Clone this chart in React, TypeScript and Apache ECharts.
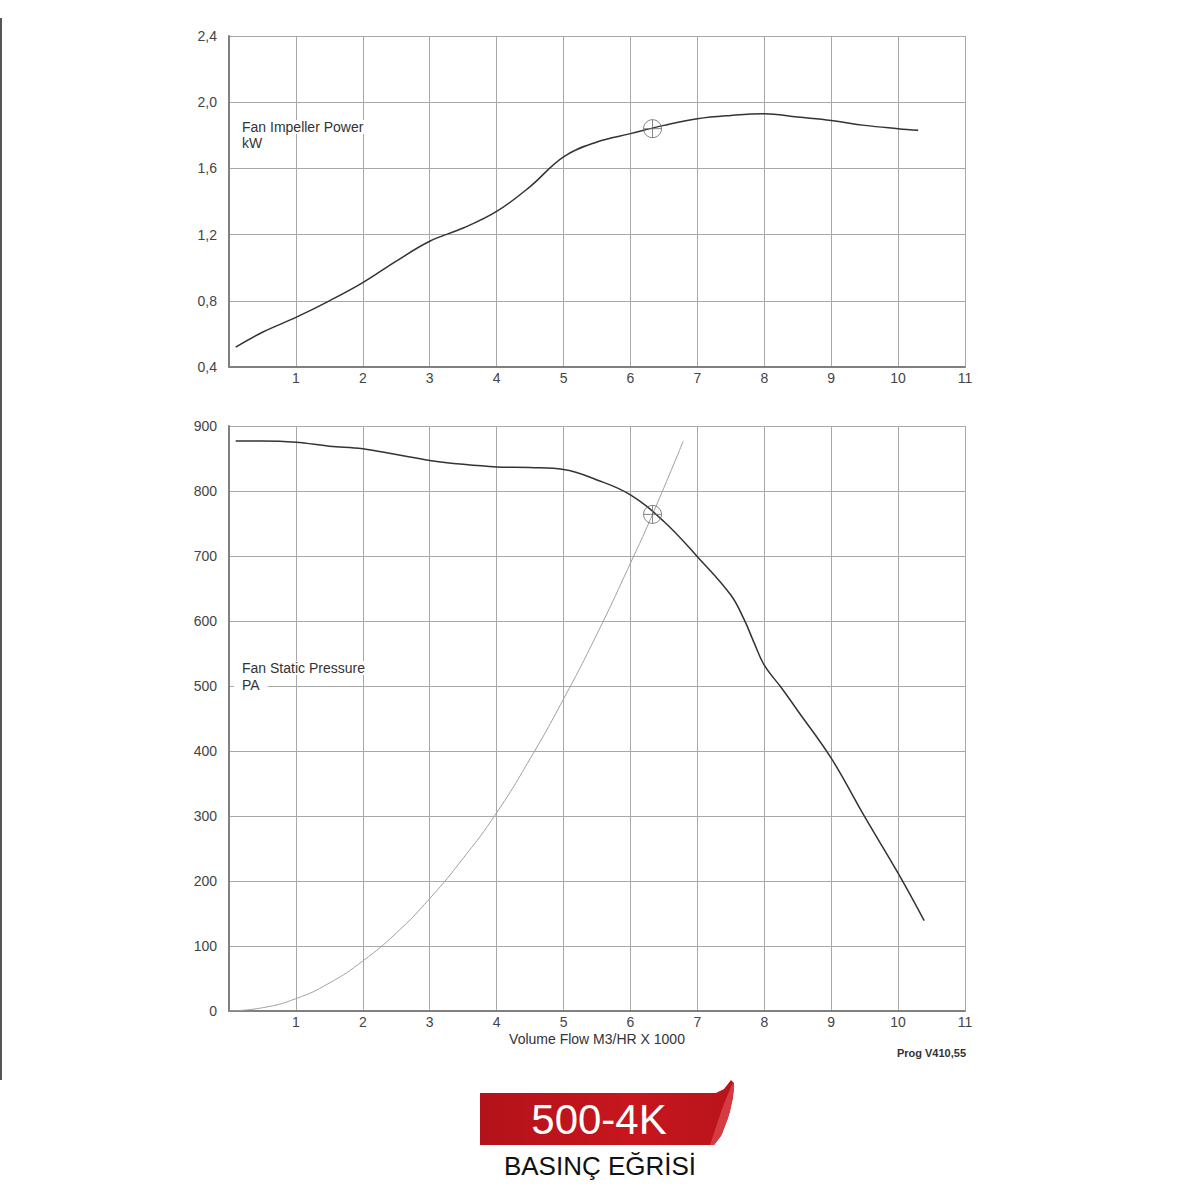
import React, { useEffect, useRef } from "react";
import * as echarts from "echarts";

// ---- data ----
const powerFlow = [0.1, 0.5, 1, 1.5, 2, 2.5, 3, 3.5, 4, 4.5, 5, 5.5, 6, 6.5, 7, 7.5, 8, 8.5, 9, 9.5, 10, 10.3];
const powerKw = [0.52, 0.61, 0.7, 0.8, 0.91, 1.04, 1.16, 1.24, 1.34, 1.49, 1.67, 1.76, 1.81, 1.86, 1.9, 1.92, 1.93, 1.91, 1.89, 1.86, 1.84, 1.83];

const pressureFlow = [0.1, 0.5, 1, 1.5, 2, 2.5, 3, 3.5, 4, 4.5, 5, 5.5, 6, 6.5, 7, 7.5, 7.7, 7.85, 8, 8.25, 8.5, 9, 9.5, 10, 10.39];
const pressurePa = [877, 877, 875, 869, 865, 856, 847, 841, 837, 836, 833, 817, 794, 753, 699, 640, 602, 566, 532, 498, 462, 389, 299, 212, 139];

const systemFlow = [0, 0.5, 1, 1.5, 2, 2.5, 3, 3.5, 4, 4.5, 5, 5.5, 6, 6.33, 6.79];
const systemPa = [0, 5, 19, 43, 77, 120, 173, 235, 305, 388, 480, 580, 689, 764, 877];

const opFlow = 6.33;
const opKw = 1.84;
const opPa = 764;

const xTicks = { min: 0, max: 11, interval: 1 };
const kwTicks = { min: 0.4, max: 2.4, interval: 0.4 };
const paTicks = { min: 0, max: 900, interval: 100 };

const topLabel = ["Fan Impeller Power", "kW"];
const bottomLabel = ["Fan Static Pressure", "PA"];
const xName = "Volume Flow M3/HR X 1000";
const progText = "Prog V410,55";
const modelText = "500-4K";
const subtitleText = "BASINÇ EĞRİSİ";

const FONT = '"Liberation Sans", Arial, sans-serif';

const pairs = (xs: number[], ys: number[]) => xs.map((x, i) => [x, ys[i]]);

export default function App() {
  const ref = useRef<HTMLDivElement>(null);

  useEffect(() => {
    if (!ref.current) return;
    const chart = echarts.init(ref.current, undefined, { renderer: "svg" });

    const gridLine = { show: true, lineStyle: { color: "#a8a8a8", width: 1 } };
    const axisLine = { show: true, lineStyle: { color: "#808080", width: 2 } };
    const labelBase = { color: "#444", fontSize: 14, fontFamily: FONT };

    const xAxisBase = (gridIndex: number) => ({
      type: "value",
      gridIndex,
      ...xTicks,
      axisLine,
      axisTick: { show: false },
      splitLine: gridLine,
      axisLabel: {
        ...labelBase,
        margin: 4,
        formatter: (v: number) => (v === 0 ? "" : String(v)),
      },
    });

    const markerSeries = (xi: number, x: number, y: number) => [
      {
        type: "scatter",
        xAxisIndex: xi,
        yAxisIndex: xi,
        data: [[x, y]],
        symbol: "circle",
        symbolSize: 18,
        z: 5,
        silent: true,
        itemStyle: { color: "rgba(0,0,0,0)", borderColor: "#666", borderWidth: 1 },
      },
      {
        type: "scatter",
        xAxisIndex: xi,
        yAxisIndex: xi,
        data: [[x, y]],
        symbol: "path://M10,0L10,20M0,10L20,10",
        symbolSize: 18,
        z: 5,
        silent: true,
        itemStyle: { color: "rgba(0,0,0,0)", borderColor: "#666", borderWidth: 1 },
      },
    ];

    const textLine = (text: string, x: number, y: number) => ({
      type: "text",
      x,
      y,
      z: 10,
      style: {
        text,
        fill: "#333",
        fontSize: 14,
        fontFamily: FONT,
        align: "left",
        verticalAlign: "middle",
        backgroundColor: "#fff",
        padding: [0, 8, 0, 8],
      },
    });

    chart.setOption({
      animation: false,
      backgroundColor: "#fff",
      grid: [
        { left: 229, top: 36, width: 736, height: 331 },
        { left: 229, top: 426, width: 736, height: 585 },
      ],
      xAxis: [
        xAxisBase(0),
        {
          ...xAxisBase(1),
          name: xName,
          nameLocation: "middle",
          nameGap: 21,
          nameTextStyle: { color: "#333", fontSize: 14, fontFamily: FONT, verticalAlign: "top" },
        },
      ],
      yAxis: [
        {
          type: "value",
          gridIndex: 0,
          ...kwTicks,
          axisLine,
          axisTick: { show: false },
          splitLine: gridLine,
          axisLabel: {
            ...labelBase,
            margin: 12,
            formatter: (v: number) => v.toFixed(1).replace(".", ","),
          },
        },
        {
          type: "value",
          gridIndex: 1,
          ...paTicks,
          axisLine,
          axisTick: { show: false },
          splitLine: gridLine,
          axisLabel: { ...labelBase, margin: 12 },
        },
      ],
      series: [
        {
          type: "line",
          xAxisIndex: 0,
          yAxisIndex: 0,
          data: pairs(powerFlow, powerKw),
          smooth: 0.4,
          showSymbol: false,
          silent: true,
          lineStyle: { color: "#333", width: 1.5 },
          z: 3,
        },
        {
          type: "line",
          xAxisIndex: 1,
          yAxisIndex: 1,
          data: pairs(systemFlow, systemPa),
          smooth: 0.5,
          showSymbol: false,
          silent: true,
          lineStyle: { color: "#a0a0a0", width: 1 },
          z: 2,
        },
        {
          type: "line",
          xAxisIndex: 1,
          yAxisIndex: 1,
          data: pairs(pressureFlow, pressurePa),
          smooth: 0.4,
          showSymbol: false,
          silent: true,
          lineStyle: { color: "#333", width: 1.5 },
          z: 3,
        },
        ...markerSeries(0, opFlow, opKw),
        ...markerSeries(1, opFlow, opPa),
      ],
      graphic: [
        {
          type: "line",
          shape: { x1: 1, y1: 18, x2: 1, y2: 1080 },
          style: { stroke: "#555", lineWidth: 2 },
        },
        textLine(topLabel[0], 234, 127),
        textLine(topLabel[1], 234, 143),
        textLine(bottomLabel[0], 234, 668),
        textLine(bottomLabel[1], 234, 685),
        {
          type: "text",
          x: 966,
          y: 1053,
          style: {
            text: progText,
            fill: "#333",
            fontSize: 11,
            fontWeight: "bold",
            fontFamily: FONT,
            align: "right",
            verticalAlign: "middle",
          },
        },
        {
          type: "polygon",
          shape: {
            points: [
              [480, 1093], [716, 1093], [724, 1089], [731, 1080], [734, 1083],
              [733, 1098], [728, 1118], [721, 1136], [714, 1145], [480, 1145],
            ],
          },
          style: {
            fill: new echarts.graphic.LinearGradient(0, 0, 1, 0, [
              { offset: 0, color: "#b3121a" },
              { offset: 0.6, color: "#c7161e" },
              { offset: 1, color: "#b8141b" },
            ]),
          },
        },
        {
          type: "polygon",
          shape: {
            points: [
              [710, 1145], [716, 1127], [722, 1109], [728, 1094], [733, 1082],
              [734, 1090], [730, 1112], [722, 1134], [714, 1145],
            ],
          },
          style: { fill: "#d63b41" },
        },
        {
          type: "text",
          x: 599,
          y: 1119,
          style: {
            text: modelText,
            fill: "#fff",
            fontSize: 42,
            fontFamily: FONT,
            align: "center",
            verticalAlign: "middle",
          },
        },
        {
          type: "text",
          x: 600,
          y: 1166,
          style: {
            text: subtitleText,
            fill: "#111",
            fontSize: 26,
            fontFamily: FONT,
            align: "center",
            verticalAlign: "middle",
          },
        },
      ],
    });

    return () => chart.dispose();
  }, []);

  return (
    <div
      ref={ref}
      style={{ position: "fixed", left: 0, top: 0, width: 1200, height: 1200, background: "#fff" }}
    />
  );
}
